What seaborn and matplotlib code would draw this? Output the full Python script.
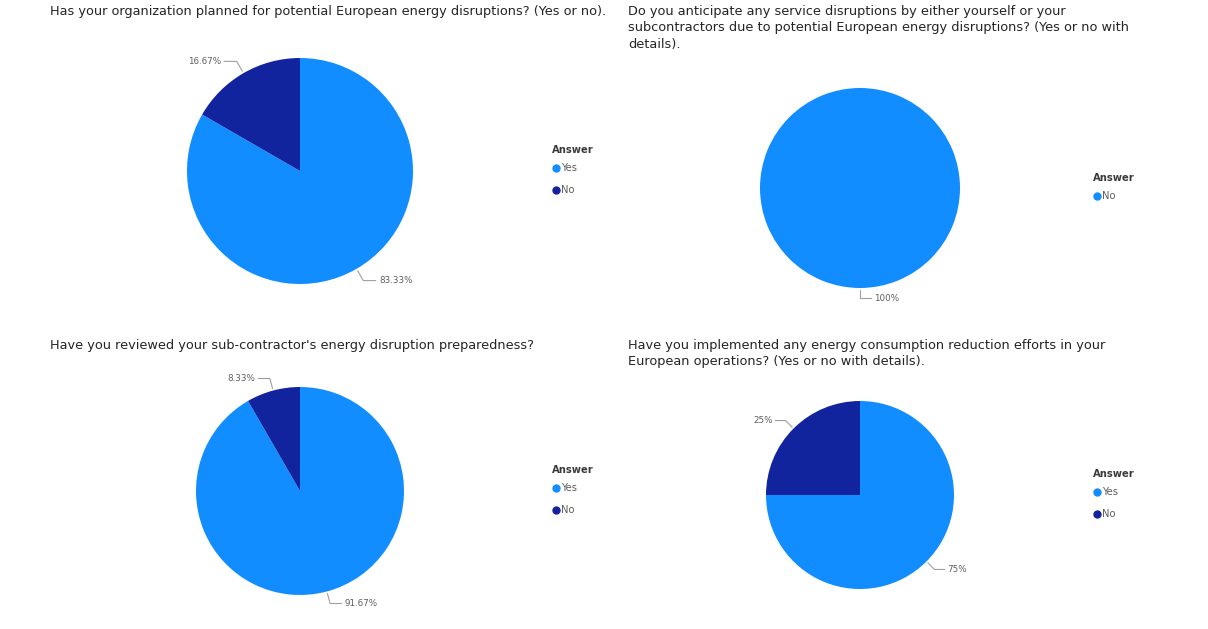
import matplotlib
matplotlib.use("Agg")
import matplotlib.pyplot as plt
from matplotlib.lines import Line2D
import numpy as np
import seaborn as sns

# ---------------- data ----------------
q1_title = "Has your organization planned for potential European energy disruptions? (Yes or no)."
q1_answers = ["Yes", "No"]
q1_values = [83.33, 16.67]

q2_title = ("Do you anticipate any service disruptions by either yourself or your\n"
            "subcontractors due to potential European energy disruptions? (Yes or no with\n"
            "details).")
q2_answers = ["No"]
q2_values = [100]

q3_title = "Have you reviewed your sub-contractor's energy disruption preparedness?"
q3_answers = ["Yes", "No"]
q3_values = [91.67, 8.33]

q4_title = ("Have you implemented any energy consumption reduction efforts in your\n"
            "European operations? (Yes or no with details).")
q4_answers = ["Yes", "No"]
q4_values = [75, 25]

legend_title = "Answer"
palette = ["#118DFF", "#12239E"]

# ---------------- style ----------------
sns.set_theme(style="white")
plt.rcParams["font.family"] = ["DejaVu Sans"]

W, H = 1208, 629
fig = plt.figure(figsize=(W / 100, H / 100), dpi=100)
fig.patch.set_facecolor("white")

def fx(x):
    return x / W

def fy(y):
    return 1 - y / H

TITLE_C = "#252423"
LABEL_C = "#605E5C"
LINE_C = "#A19F9D"

# layout per chart: pie center/radius (px), title pos, legend pos
layouts = [
    dict(cx=300, cy=171, r=113, tx=50, ty=4.5, lx=552, ly=150),
    dict(cx=860, cy=188, r=100, tx=628, ty=4.5, lx=1093, ly=178),
    dict(cx=300, cy=491, r=104, tx=50, ty=338.5, lx=552, ly=470),
    dict(cx=860, cy=495, r=94, tx=628, ty=338.5, lx=1093, ly=474),
]
charts = [
    (q1_title, q1_answers, q1_values),
    (q2_title, q2_answers, q2_values),
    (q3_title, q3_answers, q3_values),
    (q4_title, q4_answers, q4_values),
]

for (title, answers, values), lay in zip(charts, layouts):
    cx, cy, r = lay["cx"], lay["cy"], lay["r"]
    S = 1.5 * r
    ax = fig.add_axes([fx(cx - S), fy(cy + S), 2 * S / W, 2 * S / H])
    ax.set_aspect("equal")
    ax.axis("off")
    colors = palette[:len(answers)]
    wedges, _ = ax.pie(values, colors=colors, startangle=90, counterclock=False,
                       radius=1.0, wedgeprops=dict(linewidth=0))
    ax.set_xlim(-1.5, 1.5)
    ax.set_ylim(-1.5, 1.5)
    for w, v in zip(wedges, values):
        th = np.deg2rad((w.theta1 + w.theta2) / 2)
        c, s = np.cos(th), np.sin(th)
        side = 1 if round(c, 6) >= 0 else -1
        p0 = np.array([c, s]) * 1.02
        p1 = np.array([c, s]) * 1.12
        if abs(round(c, 6)) == 0:
            p1 = np.array([0.0, s * 1.1])
        p2 = p1 + np.array([side * 0.11, 0])
        ax.plot([p0[0], p1[0], p2[0]], [p0[1], p1[1], p2[1]], color=LINE_C, lw=0.8,
                clip_on=False)
        ax.text(p2[0] + side * 0.03, p2[1], f"{v:g}%", ha="left" if side > 0 else "right",
                va="center", fontsize=6.3, color=LABEL_C)

    fig.text(fx(lay["tx"]), fy(lay["ty"]), title, ha="left", va="top", fontsize=9.3,
             color=TITLE_C, linespacing=1.37)

    # legend
    lx, ly = lay["lx"], lay["ly"]
    fig.text(fx(lx), fy(ly), legend_title, ha="left", va="center", fontsize=7.2,
             fontweight="bold", color="#3b3a39")
    for i, (a, col) in enumerate(zip(answers, colors)):
        yy = ly + 18 + i * 22
        fig.add_artist(Line2D([fx(lx + 4)], [fy(yy)], marker="o", ms=5, color=col,
                              linestyle="none", transform=fig.transFigure))
        fig.text(fx(lx + 9), fy(yy), a, ha="left", va="center", fontsize=7.2, color=LABEL_C)

fig.savefig("out.png", dpi=100, facecolor="white")
